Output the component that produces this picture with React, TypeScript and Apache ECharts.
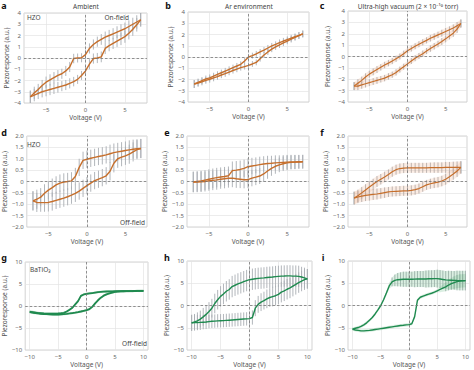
import React, { useEffect, useRef } from 'react';
import * as echarts from 'echarts';

// ---------- data ----------
const V7 = [-7, -6.5, -6, -5.5, -5, -4.5, -4, -3.5, -3, -2.5, -2, -1.5, -1, -0.5, 0, 0.5, 1, 1.5, 2, 2.5, 3, 3.5, 4, 4.5, 5, 5.5, 6, 6.5, 7];
const V10 = [-10, -9.5, -9, -8.5, -8, -7.5, -7, -6.5, -6, -5.5, -5, -4.5, -4, -3.5, -3, -2.5, -2, -1.5, -1, -0.5, 0, 0.5, 1, 1.5, 2, 2.5, 3, 3.5, 4, 4.5, 5, 5.5, 6, 6.5, 7, 7.5, 8, 8.5, 9, 9.5, 10];

// a: HZO ambient, on-field
const aUp = [-3.45, -3.1, -2.8, -2.45, -2.15, -1.95, -1.75, -1.55, -1.4, -1.15, -0.8, -0.05, 0.0, 0.02, 0.3, 0.85, 1.2, 1.45, 1.65, 1.85, 2.0, 2.15, 2.3, 2.45, 2.6, 2.8, 3.0, 3.2, 3.4];
const aDown = [-3.45, -3.3, -3.15, -3.0, -2.9, -2.8, -2.7, -2.6, -2.5, -2.4, -2.25, -2.1, -1.9, -1.55, -1.15, -0.55, -0.05, 0.0, 0.1, 0.85, 1.1, 1.3, 1.5, 1.7, 1.9, 2.2, 2.55, 2.95, 3.4];
const aErr = [0.55, 0.55, 0.5, 0.5, 0.5, 0.5, 0.5, 0.48, 0.45, 0.45, 0.45, 0.42, 0.4, 0.4, 0.45, 0.45, 0.45, 0.45, 0.48, 0.5, 0.5, 0.5, 0.52, 0.55, 0.55, 0.55, 0.58, 0.6, 0.6];

// b: Ar environment
const bUp = [-2.4, -2.25, -2.1, -1.95, -1.85, -1.7, -1.55, -1.4, -1.25, -1.1, -0.95, -0.8, -0.65, -0.35, 0.0, 0.12, 0.28, 0.45, 0.62, 0.8, 0.98, 1.12, 1.28, 1.42, 1.55, 1.68, 1.8, 1.92, 2.05];
const bDown = [-2.4, -2.32, -2.2, -2.08, -1.98, -1.86, -1.74, -1.6, -1.48, -1.35, -1.2, -1.08, -0.95, -0.85, -0.75, -0.62, -0.48, -0.15, 0.18, 0.45, 0.7, 0.9, 1.08, 1.25, 1.42, 1.58, 1.74, 1.9, 2.05];
const bErr = [0.35, 0.33, 0.32, 0.3, 0.3, 0.3, 0.28, 0.28, 0.28, 0.27, 0.27, 0.27, 0.26, 0.26, 0.26, 0.26, 0.26, 0.26, 0.26, 0.27, 0.27, 0.27, 0.28, 0.28, 0.28, 0.29, 0.29, 0.3, 0.3];

// c: ultra-high vacuum
const cUp = [-2.6, -2.35, -2.1, -1.8, -1.55, -1.35, -1.15, -0.95, -0.75, -0.58, -0.4, -0.2, 0.0, 0.25, 0.5, 0.7, 0.9, 1.08, 1.25, 1.42, 1.6, 1.75, 1.9, 2.05, 2.2, 2.35, 2.5, 2.7, 2.9];
const cDown = [-2.6, -2.6, -2.5, -2.4, -2.3, -2.2, -2.1, -2.0, -1.9, -1.75, -1.6, -1.4, -1.15, -0.9, -0.65, -0.4, -0.15, 0.05, 0.25, 0.48, 0.7, 0.9, 1.1, 1.32, 1.55, 1.8, 2.05, 2.4, 2.9];
const cErr = [0.35, 0.35, 0.33, 0.32, 0.3, 0.3, 0.3, 0.28, 0.28, 0.28, 0.27, 0.27, 0.26, 0.26, 0.26, 0.26, 0.26, 0.26, 0.27, 0.27, 0.28, 0.28, 0.28, 0.3, 0.3, 0.3, 0.32, 0.33, 0.35];

// d: HZO ambient, off-field
const dUp = [-0.85, -0.78, -0.69, -0.52, -0.38, -0.27, -0.15, -0.07, -0.02, 0.0, 0.03, 0.22, 0.62, 0.93, 0.98, 1.02, 1.06, 1.1, 1.13, 1.17, 1.22, 1.27, 1.3, 1.33, 1.36, 1.39, 1.42, 1.44, 1.45];
const dDown = [-0.85, -0.92, -0.93, -0.93, -0.92, -0.88, -0.83, -0.78, -0.73, -0.67, -0.6, -0.52, -0.42, -0.3, -0.18, -0.07, 0.04, 0.1, 0.17, 0.25, 0.45, 0.8, 1.0, 1.07, 1.13, 1.2, 1.3, 1.4, 1.45];
const dErr = [0.42, 0.42, 0.4, 0.4, 0.4, 0.4, 0.38, 0.38, 0.38, 0.38, 0.38, 0.38, 0.38, 0.38, 0.38, 0.38, 0.38, 0.38, 0.38, 0.38, 0.4, 0.4, 0.4, 0.4, 0.4, 0.42, 0.42, 0.42, 0.42];

// e: Ar environment, off-field
const eUp = [-0.02, 0.0, 0.02, 0.06, 0.1, 0.14, 0.17, 0.2, 0.22, 0.25, 0.48, 0.5, 0.53, 0.58, 0.65, 0.68, 0.71, 0.74, 0.77, 0.79, 0.8, 0.82, 0.83, 0.84, 0.85, 0.86, 0.86, 0.87, 0.87];
const eDown = [-0.02, -0.02, -0.01, 0.0, 0.03, 0.05, 0.07, 0.1, 0.12, 0.14, 0.15, 0.12, 0.1, 0.08, 0.08, 0.15, 0.19, 0.24, 0.33, 0.46, 0.58, 0.67, 0.73, 0.78, 0.82, 0.84, 0.85, 0.86, 0.87];
const eErr = [0.45, 0.45, 0.45, 0.44, 0.44, 0.43, 0.43, 0.42, 0.42, 0.41, 0.4, 0.4, 0.39, 0.38, 0.37, 0.36, 0.35, 0.35, 0.34, 0.34, 0.33, 0.33, 0.32, 0.32, 0.32, 0.31, 0.31, 0.3, 0.3];

// f: UHV, off-field
const fUp = [-0.73, -0.63, -0.5, -0.37, -0.24, -0.12, 0.0, 0.1, 0.2, 0.31, 0.43, 0.52, 0.57, 0.59, 0.6, 0.6, 0.6, 0.6, 0.6, 0.6, 0.61, 0.61, 0.61, 0.61, 0.62, 0.62, 0.62, 0.62, 0.62];
const fDown = [-0.73, -0.68, -0.64, -0.61, -0.59, -0.57, -0.55, -0.52, -0.49, -0.46, -0.44, -0.43, -0.42, -0.41, -0.41, -0.39, -0.36, -0.31, -0.23, -0.15, -0.1, -0.06, -0.03, 0.02, 0.1, 0.21, 0.33, 0.46, 0.62];
const fErr = [0.28, 0.27, 0.26, 0.25, 0.25, 0.24, 0.24, 0.23, 0.23, 0.22, 0.22, 0.22, 0.22, 0.22, 0.22, 0.22, 0.22, 0.22, 0.22, 0.22, 0.22, 0.23, 0.23, 0.23, 0.24, 0.24, 0.25, 0.26, 0.27];

// g: BaTiO3, off-field
const gUp = [-1.35, -1.4, -1.5, -1.6, -1.65, -1.7, -1.72, -1.73, -1.73, -1.72, -1.7, -1.65, -1.55, -1.25, -0.85, -0.4, 0.35, 1.1, 2.3, 2.62, 2.75, 2.85, 2.95, 3.05, 3.15, 3.22, 3.28, 3.3, 3.32, 3.34, 3.35, 3.36, 3.37, 3.38, 3.39, 3.4, 3.4, 3.41, 3.42, 3.42, 3.43];
const gDown = [-1.35, -1.5, -1.6, -1.7, -1.78, -1.82, -1.86, -1.9, -1.93, -1.95, -1.95, -1.9, -1.85, -1.78, -1.7, -1.6, -1.5, -1.38, -1.25, -1.1, -0.95, -0.7, -0.2, 0.6, 1.3, 1.9, 2.35, 2.65, 2.85, 3.05, 3.2, 3.28, 3.32, 3.35, 3.37, 3.39, 3.4, 3.41, 3.42, 3.43, 3.43];
const gErr = [0.3, 0.3, 0.28, 0.28, 0.25, 0.25, 0.25, 0.25, 0.25, 0.25, 0.25, 0.25, 0.25, 0.25, 0.25, 0.25, 0.25, 0.25, 0.25, 0.25, 0.25, 0.25, 0.25, 0.25, 0.25, 0.25, 0.25, 0.25, 0.25, 0.25, 0.25, 0.25, 0.25, 0.25, 0.25, 0.25, 0.25, 0.25, 0.25, 0.25, 0.25];

// h
const hUp = [-3.9, -3.7, -3.45, -3.05, -2.55, -2.0, -1.35, -0.6, 0.45, 1.3, 2.05, 2.6, 3.2, 3.6, 4.25, 4.55, 4.85, 5.1, 5.35, 5.6, 5.8, 5.9, 6.0, 6.1, 6.15, 6.2, 6.3, 6.35, 6.4, 6.5, 6.55, 6.6, 6.62, 6.65, 6.65, 6.6, 6.6, 6.55, 6.4, 6.2, 6.0];
const hDown = [-3.9, -3.85, -3.85, -3.8, -3.75, -3.7, -3.62, -3.55, -3.5, -3.45, -3.42, -3.4, -3.35, -3.3, -3.25, -3.2, -3.15, -3.1, -3.05, -3.0, -2.95, -2.7, -0.6, 0.25, 0.75, 1.1, 1.5, 1.8, 2.0, 2.2, 2.5, 3.0, 3.3, 3.65, 3.95, 4.35, 4.75, 5.15, 5.5, 5.8, 6.0];
const hErrUp = [1.8, 1.8, 1.9, 1.9, 2.0, 2.0, 2.1, 2.1, 2.2, 2.2, 2.3, 2.3, 2.3, 2.3, 2.4, 2.4, 2.4, 2.4, 2.4, 2.4, 2.4, 2.4, 2.4, 2.4, 2.4, 2.4, 2.4, 2.4, 2.4, 2.4, 2.4, 2.4, 2.4, 2.4, 2.4, 2.4, 2.4, 2.4, 2.3, 2.3, 2.2];
const hErrDown = [1.8, 1.8, 1.7, 1.7, 1.6, 1.6, 1.5, 1.5, 1.5, 1.5, 1.5, 1.5, 1.5, 1.5, 1.5, 1.5, 1.5, 1.5, 1.5, 1.5, 1.5, 1.6, 1.8, 1.9, 2.0, 2.0, 2.1, 2.1, 2.2, 2.2, 2.2, 2.3, 2.3, 2.3, 2.3, 2.3, 2.3, 2.3, 2.3, 2.3, 2.2];

// i
const iUp = [-5.3, -5.1, -4.95, -4.7, -4.35, -3.9, -3.3, -2.7, -1.9, -1.0, 0.0, 1.3, 2.8, 4.4, 5.3, 5.65, 5.8, 5.85, 5.9, 5.9, 5.9, 5.9, 5.92, 5.95, 5.95, 5.95, 5.95, 6.0, 6.02, 6.05, 6.05, 5.95, 5.85, 5.75, 5.7, 5.68, 5.65, 5.62, 5.6, 5.6, 5.6];
const iDown = [-5.3, -5.5, -5.6, -5.7, -5.7, -5.65, -5.6, -5.5, -5.4, -5.3, -5.2, -5.1, -5.0, -4.9, -4.8, -4.7, -4.6, -4.5, -4.45, -4.35, -4.3, -4.1, -2.5, 1.2, 1.85, 2.1, 2.35, 2.55, 2.75, 3.0, 3.3, 3.6, 3.9, 4.2, 4.6, 4.9, 5.15, 5.35, 5.5, 5.55, 5.6];
const iErrUp = [0.35, 0.35, 0.35, 0.35, 0.35, 0.35, 0.35, 0.35, 0.35, 0.35, 0.35, 0.4, 0.5, 0.7, 1.0, 1.3, 1.5, 1.6, 1.7, 1.7, 1.7, 1.7, 1.8, 1.8, 1.8, 1.8, 1.9, 1.9, 1.9, 1.9, 2.0, 2.0, 2.0, 2.0, 2.1, 2.1, 2.1, 2.2, 2.2, 2.2, 2.2];
const iErrDown = [0.35, 0.35, 0.35, 0.35, 0.35, 0.35, 0.35, 0.35, 0.35, 0.35, 0.35, 0.35, 0.35, 0.35, 0.35, 0.35, 0.35, 0.35, 0.35, 0.35, 0.35, 0.35, 0.35, 0.35, 0.35, 0.35, 0.35, 0.35, 0.35, 0.35, 0.35, 0.6, 0.8, 1.0, 1.2, 1.3, 1.4, 1.5, 1.5, 1.5, 1.5];

const xTicks7 = [-5, 0, 5];
const xTicks10 = [-10, -5, 0, 5, 10];

const titles = ['Ambient', 'Ar environment', 'Ultra-high vacuum (2 × 10⁻¹⁰ torr)'];
const letters = ['a', 'b', 'c', 'd', 'e', 'f', 'g', 'h', 'i'];

// ---------- styling ----------
const ORANGE = '#c66f2c';
const GREEN = '#1f8a4f';
const BAR = '#a9aeb3';
const FONT = 'Noto Sans';

type Panel = {
  grid: { left: number; top: number; width: number; height: number };
  xr: number; xt: number[]; ymin: number; ymax: number; yint: number; dec: boolean;
  V: number[]; up: number[]; down: number[]; errUp: number[]; errDown: number[];
  color: string; band: string | null; barMin: number; lw: number; yGap: number;
};

const panels: Panel[] = [
  { grid: { left: 24, top: 13, width: 123, height: 90 }, xr: 7.8, xt: xTicks7, ymin: -4, ymax: 4, yint: 1, dec: false, V: V7, up: aUp, down: aDown, errUp: aErr, errDown: aErr, color: ORANGE, band: null, barMin: 0, lw: 1.4, yGap: 13 },
  { grid: { left: 188, top: 12, width: 121, height: 90 }, xr: 7.8, xt: xTicks7, ymin: -4, ymax: 4, yint: 1, dec: false, V: V7, up: bUp, down: bDown, errUp: bErr, errDown: bErr, color: ORANGE, band: null, barMin: 0, lw: 1.4, yGap: 12 },
  { grid: { left: 348, top: 11, width: 119, height: 91 }, xr: 7.8, xt: xTicks7, ymin: -4, ymax: 4, yint: 1, dec: false, V: V7, up: cUp, down: cDown, errUp: cErr, errDown: cErr, color: ORANGE, band: 'rgba(235,175,135,0.22)', barMin: 0, lw: 1.2, yGap: 17 },
  { grid: { left: 24, top: 136, width: 123, height: 91 }, xr: 7.8, xt: xTicks7, ymin: -2, ymax: 2, yint: 0.5, dec: true, V: V7, up: dUp, down: dDown, errUp: dErr, errDown: dErr, color: ORANGE, band: null, barMin: 0, lw: 1.4, yGap: 13 },
  { grid: { left: 187, top: 136, width: 122, height: 91 }, xr: 7.8, xt: xTicks7, ymin: -2, ymax: 2, yint: 0.5, dec: true, V: V7, up: eUp, down: eDown, errUp: eErr, errDown: eErr, color: ORANGE, band: null, barMin: 0, lw: 1.4, yGap: 13 },
  { grid: { left: 348, top: 136, width: 119, height: 91 }, xr: 7.8, xt: xTicks7, ymin: -2, ymax: 2, yint: 0.5, dec: true, V: V7, up: fUp, down: fDown, errUp: fErr, errDown: fErr, color: ORANGE, band: 'rgba(235,175,135,0.22)', barMin: 0, lw: 1.2, yGap: 17 },
  { grid: { left: 25, top: 262, width: 123, height: 88 }, xr: 10.8, xt: xTicks10, ymin: -10, ymax: 10, yint: 5, dec: false, V: V10, up: gUp, down: gDown, errUp: gErr, errDown: gErr, color: GREEN, band: 'rgba(40,140,80,0.3)', barMin: 99, lw: 1.8, yGap: 13 },
  { grid: { left: 187, top: 261, width: 125, height: 89 }, xr: 10.8, xt: xTicks10, ymin: -10, ymax: 10, yint: 5, dec: false, V: V10, up: hUp, down: hDown, errUp: hErrUp, errDown: hErrDown, color: GREEN, band: null, barMin: 0, lw: 1.4, yGap: 14 },
  { grid: { left: 348, top: 261, width: 122, height: 89 }, xr: 10.8, xt: xTicks10, ymin: -10, ymax: 10, yint: 5, dec: false, V: V10, up: iUp, down: iDown, errUp: iErrUp, errDown: iErrDown, color: GREEN, band: 'rgba(110,190,140,0.25)', barMin: 0.9, lw: 1.4, yGap: 16 },
];

const minus = (s: string) => s.replace('-', '\u2212');

function buildOption() {
  const grid: any[] = [];
  const xAxis: any[] = [];
  const yAxis: any[] = [];
  const series: any[] = [];
  const label = { fontFamily: FONT, fontSize: 6, color: '#666' };
  const nameStyle = { fontFamily: FONT, fontSize: 6.5, color: '#555', fontWeight: 'normal' };

  panels.forEach((p, k) => {
    grid.push({ ...p.grid, show: true, borderColor: '#c8c8c8', borderWidth: 0.8, backgroundColor: '#fff' });
    xAxis.push({
      type: 'value', gridIndex: k, min: -p.xr, max: p.xr,
      name: 'Voltage (V)', nameLocation: 'middle', nameGap: 11, nameTextStyle: nameStyle,
      axisLine: { show: false },
      axisTick: { show: false, customValues: p.xt },
      axisLabel: { ...label, margin: 4, customValues: p.xt, formatter: (v: number) => minus(String(v)) },
      splitLine: { show: true, lineStyle: { color: '#e4e4e4', width: 0.7 } },
    });
    yAxis.push({
      type: 'value', gridIndex: k, min: p.ymin, max: p.ymax, interval: p.yint,
      name: 'Piezoresponse (a.u.)', nameLocation: 'middle', nameGap: p.yGap, nameTextStyle: nameStyle,
      axisLine: { show: false }, axisTick: { show: false },
      axisLabel: { ...label, margin: 3, formatter: (v: number) => (v === 0 ? '0' : minus(p.dec ? v.toFixed(1) : String(v))) },
      splitLine: { show: true, lineStyle: { color: '#e4e4e4', width: 0.7 } },
    });

    const branches = [
      { vals: p.up, err: p.errUp },
      { vals: p.down, err: p.errDown },
    ];

    if (p.band) {
      branches.forEach((b) => {
        const data = p.V.slice(0, -1).map((v, i) => [
          v, b.vals[i] - b.err[i], b.vals[i] + b.err[i],
          p.V[i + 1], b.vals[i + 1] - b.err[i + 1], b.vals[i + 1] + b.err[i + 1],
        ]);
        const bandColor = p.band as string;
        series.push({
          type: 'custom', xAxisIndex: k, yAxisIndex: k, z: 3, silent: true,
          encode: { x: [0, 3], y: [1, 2, 4, 5] },
          data,
          renderItem: (_params: any, api: any) => {
            const a1 = api.coord([api.value(0), api.value(1)]);
            const a2 = api.coord([api.value(3), api.value(4)]);
            const b2 = api.coord([api.value(3), api.value(5)]);
            const b1 = api.coord([api.value(0), api.value(2)]);
            return { type: 'polygon', shape: { points: [a1, a2, b2, b1] }, style: { fill: bandColor, stroke: 'none' } };
          },
        });
      });
    }

    branches.forEach((b) => {
      const data = p.V.map((v, i) => [v, b.vals[i] - b.err[i], b.vals[i] + b.err[i], b.err[i]]).filter((d) => d[3] >= p.barMin);
      if (!data.length) return;
      series.push({
        type: 'custom', xAxisIndex: k, yAxisIndex: k, z: 2, silent: true,
        encode: { x: 0, y: [1, 2] },
        data,
        renderItem: (_params: any, api: any) => {
          const p1 = api.coord([api.value(0), api.value(1)]);
          const p2 = api.coord([api.value(0), api.value(2)]);
          return { type: 'line', shape: { x1: p1[0], y1: p1[1], x2: p2[0], y2: p2[1] }, style: { stroke: BAR, lineWidth: 0.9 } };
        },
      });
    });

    branches.forEach((b, j) => {
      series.push({
        type: 'line', xAxisIndex: k, yAxisIndex: k, z: 4, silent: true,
        data: p.V.map((v, i) => [v, b.vals[i]]),
        showSymbol: false, symbol: 'none',
        lineStyle: { color: p.color, width: p.lw },
        itemStyle: { color: p.color },
        markLine: j === 0 ? {
          silent: true, symbol: 'none', label: { show: false },
          lineStyle: { color: '#777', type: [2.5, 2], width: 0.8 },
          data: [{ xAxis: 0 }, { yAxis: 0 }],
        } : undefined,
      });
    });
  });

  const letterPos = [[4, 5], [168, 5], [322, 5], [4, 132], [167, 132], [322, 132], [4, 257], [167, 257], [323, 257]];
  const graphic: any[] = [];
  letters.forEach((l, i) => {
    graphic.push({ type: 'text', x: letterPos[i][0], y: letterPos[i][1], style: { text: l, fontFamily: FONT, fontWeight: 'bold', fontSize: 9, fill: '#111', align: 'center', verticalAlign: 'middle' } });
  });
  const titleX = [86, 249, 408];
  titles.forEach((t, i) => {
    graphic.push({ type: 'text', x: titleX[i], y: 6, style: { text: t, fontFamily: FONT, fontSize: 6.5, fill: '#444', align: 'center', verticalAlign: 'middle' } });
  });
  const notes: [string, number, number, string][] = [
    ['HZO', 27, 17, 'left'], ['On-field', 129, 17, 'right'],
    ['HZO', 27, 144, 'left'], ['Off-field', 145, 222, 'right'],
    ['BaTiO₃', 30, 269, 'left'], ['Off-field', 147, 343, 'right'],
  ];
  notes.forEach(([t, x, y, a]) => {
    graphic.push({ type: 'text', x, y, z: 10, style: { text: t, fontFamily: FONT, fontSize: 6.5, fill: '#444', align: a, verticalAlign: 'middle' } });
  });

  return { animation: false, backgroundColor: '#fff', grid, xAxis, yAxis, series, graphic };
}

export default function App() {
  const ref = useRef<HTMLDivElement>(null);
  useEffect(() => {
    if (!ref.current) return;
    const chart = echarts.init(ref.current, undefined, { renderer: 'svg' });
    chart.setOption(buildOption() as any);
    return () => chart.dispose();
  }, []);
  return <div ref={ref} style={{ position: 'fixed', left: 0, top: 0, width: 474, height: 370, background: '#fff' }} />;
}
